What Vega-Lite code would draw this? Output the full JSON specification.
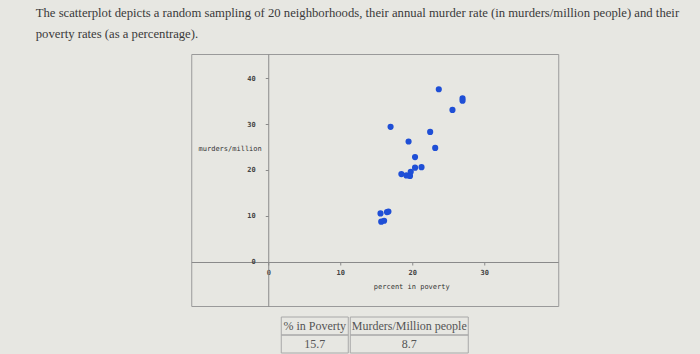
{
  "$schema": "https://vega.github.io/schema/vega-lite/v6.json",
  "background": "#e7e7e2",
  "padding": {"left": 35, "top": 6, "right": 21, "bottom": 5},
  "title": {
    "text": ["The scatterplot depicts a random sampling of 20 neighborhoods, their annual murder rate (in murders/million people) and their", "poverty rates (as a percentrage)."],
    "anchor": "start",
    "frame": "bounds",
    "dx": -155,
    "offset": 13,
    "font": "Liberation Serif",
    "fontSize": 12.7,
    "fontWeight": "normal",
    "color": "#3a3a3a",
    "lineHeight": 21
  },
  "datasets": {
    "points": [
      {"poverty": 23.7, "murders": 37.6},
      {"poverty": 27.0, "murders": 35.6},
      {"poverty": 27.0, "murders": 35.1},
      {"poverty": 25.6, "murders": 33.1},
      {"poverty": 17.0, "murders": 29.4},
      {"poverty": 22.5, "murders": 28.3},
      {"poverty": 19.5, "murders": 26.2},
      {"poverty": 23.2, "murders": 24.8},
      {"poverty": 20.4, "murders": 22.8},
      {"poverty": 20.4, "murders": 20.5},
      {"poverty": 21.3, "murders": 20.6},
      {"poverty": 18.5, "murders": 19.1},
      {"poverty": 19.2, "murders": 18.8},
      {"poverty": 19.7, "murders": 18.7},
      {"poverty": 19.8, "murders": 19.6},
      {"poverty": 15.6, "murders": 10.5},
      {"poverty": 16.7, "murders": 10.9},
      {"poverty": 16.5, "murders": 10.8},
      {"poverty": 15.7, "murders": 8.7},
      {"poverty": 16.1, "murders": 8.9}
    ],
    "table": [
      {"col": "poverty", "cell": "header", "text": "% in Poverty"},
      {"col": "poverty", "cell": "value", "text": "15.7"},
      {"col": "murders", "cell": "header", "text": "Murders/Million people"},
      {"col": "murders", "cell": "value", "text": "8.7"}
    ]
  },
  "vconcat": [
    {
      "width": 367,
      "height": 252,
      "view": {"stroke": "#9a9a9a", "strokeWidth": 1},
      "data": {"name": "points"},
      "mark": {"type": "point", "filled": true, "size": 38, "opacity": 1, "color": "#1f4fd6"},
      "encoding": {
        "x": {
          "field": "poverty",
          "type": "quantitative",
          "scale": {"domain": [-10.7, 40.3], "nice": false, "zero": false},
          "axis": {
            "title": "percent in poverty",
            "offset": -44,
            "values": [0, 10, 20, 30],
            "grid": false,
            "domainColor": "#8a8a8a",
            "tickColor": "#8a8a8a",
            "tickSize": 3,
            "labelPadding": 3,
            "labelFont": "DejaVu Sans Mono",
            "labelFontSize": 7,
            "labelFontWeight": "bold",
            "labelColor": "#444",
            "titleFont": "DejaVu Sans Mono",
            "titleFontSize": 7,
            "titleFontWeight": "normal",
            "titleColor": "#333",
            "titleX": 220,
            "titleY": 24,
            "titleAnchor": null,
            "titleAlign": "center",
            "titleBaseline": "middle"
          }
        },
        "y": {
          "field": "murders",
          "type": "quantitative",
          "scale": {"domain": [-9.7, 45.3], "nice": false, "zero": false},
          "axis": {
            "title": "murders/million",
            "offset": -77,
            "values": [0, 10, 20, 30, 40],
            "grid": false,
            "domainColor": "#8a8a8a",
            "tickColor": "#8a8a8a",
            "tickSize": 3,
            "labelPadding": 10,
            "labelFont": "DejaVu Sans Mono",
            "labelFontSize": 7,
            "labelFontWeight": "bold",
            "labelColor": "#444",
            "titleFont": "DejaVu Sans Mono",
            "titleFontSize": 7,
            "titleFontWeight": "normal",
            "titleColor": "#333",
            "titleAngle": 0,
            "titleX": -7,
            "titleY": 94,
            "titleAlign": "right",
            "titleBaseline": "middle"
          }
        }
      }
    },
    {
      "hconcat": [
        {
          "width": 67,
          "height": 36,
          "view": {"stroke": null},
          "data": {"name": "table"},
          "transform": [{"filter": "datum.col === 'poverty'"}],
          "encoding": {
            "y": {"field": "cell", "type": "nominal", "sort": ["header", "value"], "axis": null, "scale": {"paddingInner": 0, "paddingOuter": 0}}
          },
          "layer": [
            {"mark": {"type": "rect", "fill": null, "stroke": "#a8a8a8", "strokeWidth": 1}, "encoding": {"x": {"value": 0}, "x2": {"value": "width"}}},
            {"mark": {"type": "text", "font": "Liberation Serif", "fontSize": 12, "color": "#555"}, "encoding": {"text": {"field": "text"}}}
          ]
        },
        {
          "width": 118,
          "height": 36,
          "view": {"stroke": null},
          "data": {"name": "table"},
          "transform": [{"filter": "datum.col === 'murders'"}],
          "encoding": {
            "y": {"field": "cell", "type": "nominal", "sort": ["header", "value"], "axis": null, "scale": {"paddingInner": 0, "paddingOuter": 0}}
          },
          "layer": [
            {"mark": {"type": "rect", "fill": null, "stroke": "#a8a8a8", "strokeWidth": 1}, "encoding": {"x": {"value": 0}, "x2": {"value": "width"}}},
            {"mark": {"type": "text", "font": "Liberation Serif", "fontSize": 12, "color": "#555"}, "encoding": {"text": {"field": "text"}}}
          ]
        }
      ],
      "spacing": 0
    }
  ],
  "spacing": 9,
  "center": true
}
